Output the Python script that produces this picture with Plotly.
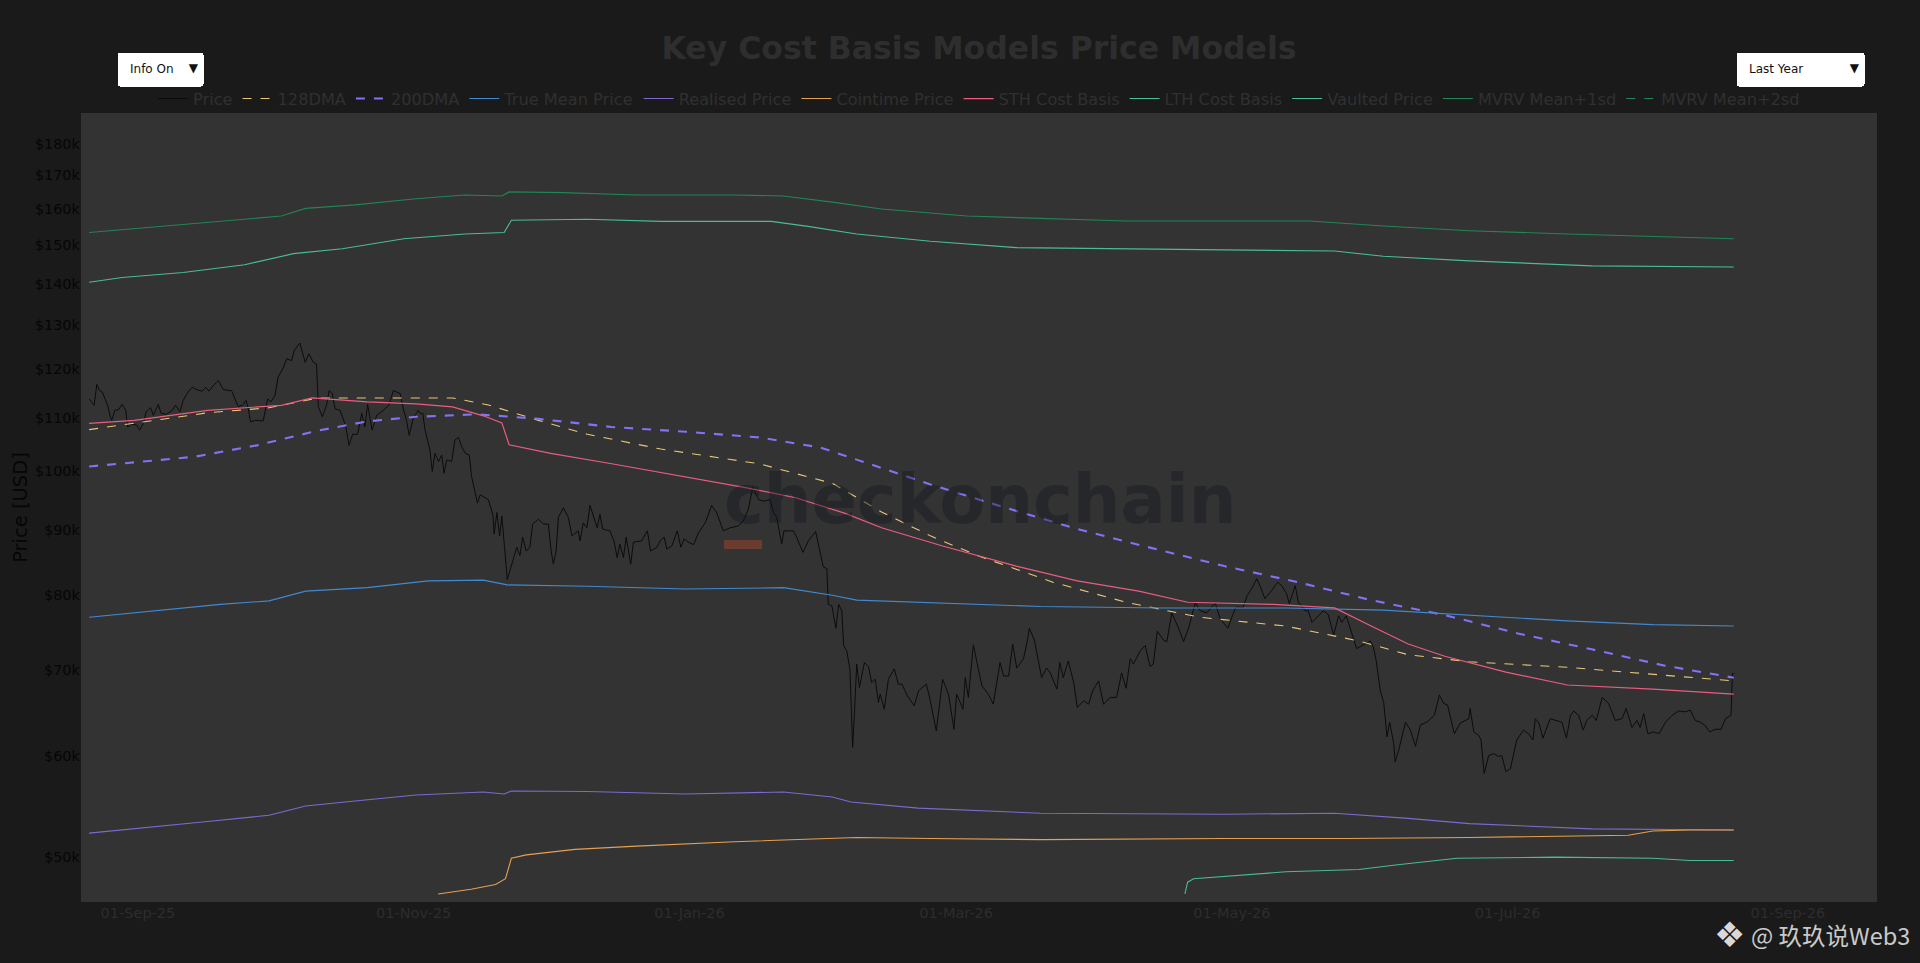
import pandas as pd
import plotly.graph_objects as go

ORIGIN = pd.Timestamp("2025-09-01")

price_days = [-10.8,-10.3,-9.7,-9.1,-8.5,-7.9,-7.3,-6.7,-6.2,-5.8,-5.1,-4.3,-3.5,-2.7,-2.3,-1.4,-0.3,0.4,1.2,1.8,2.8,3.4,4.5,5.1,6.3,7.6,8.3,9.3,10,11.1,12,13,14.2,15,15.7,16.7,17.8,18.9,20.7,21.5,22.2,23.1,23.9,24.4,24.9,25.9,27.7,28.7,29.4,30.3,31,32.2,32.9,34,34.6,35.8,37,37.8,38.8,39.5,39.9,40.8,41.7,42.3,43,43.6,44.7,45.9,46.7,47.5,48.6,49.5,50.2,50.8,51.8,52.8,54.3,55.5,56.5,58,58.7,59.4,60,60.9,62,
 62.4,63,63.5,64,64.6,65.1,65.7,66.5,67.2,67.7,68.3,69.4,70.1,70.9,71.6,72.4,73.3,73.8,74.6,75.1,75.7,76.8,77.5,78.5,78.8,79.4,80,80.5,81,81.7,82.5,83.8,84.5,85.1,85.9,86.7,87.3,88.6,89.7,90.8,91.4,91.9,92.5,93,94.1,95.2,96,97.4,97.8,98.5,99.3,100,101.1,101.6,102.2,102.8,104.4,105.3,106,106.6,107.4,108,109,109.6,111.4,112.7,113.4,114.8,115.5,116.4,117,118.1,119.3,120.1,120.8,121.8,122.9,124,125.5,126.9,128,129.5,131,132.8,133.9,135,136,137.3,138.4,139.8,140.6,141.3,142.4,142.9,145,145.7,147.1,148.3,149.9,150.5,
 151.6,152.4,152.7,153.5,154.4,155,155.7,156.1,156.8,157.5,158.1,158.5,159,159.6,160.7,161.6,162.3,163.1,163.8,164.2,165.1,166,167.3,168.2,169,170.2,171.7,172.7,174.4,175.2,176.6,178,179.3,180.5,181.1,182.5,183,183.7,184.8,185.6,186.7,188.1,189.2,190.7,191.5,192.6,193.5,194.4,195.9,196.6,197.2,198.3,199.2,199.9,201,201.8,203.3,203.9,204.7,205.8,207,207.8,209.2,210.3,211.2,212.5,213.6,215.1,216.5,217.6,218.6,219.5,220.2,221.7,222.8,223.9,224.6,225.5,226.9,227.6,228.7,230.2,231.3,232.4,233.9,235,236.4,238.3,239.4,
 240.1,241.1,242.2,242.9,244.5,245.4,246.4,247.5,248.2,249.3,250.8,252.1,253,254.1,254.7,256,256.7,257.4,258.2,258.9,259.7,260.8,262.2,263.3,264.5,265.6,266.3,267.3,268.1,269,269.6,271.1,272.6,273.3,
 273.9,274.8,275.6,276.3,276.9,277.8,278.1,278.9,279.6,280.4,281.5,282.6,283.7,285.1,286.8,287.9,288.8,289.7,290.5,291.2,292.5,294.4,294.7,295.5,296.6,297.1,297.8,298.8,299.9,301,301.7,302.6,303.6,305,306.5,307.6,308.6,309.1,309.9,310.8,312.4,313.9,315,316,316.9,317.6,318.7,319.7,320.5,321.7,322.6,323.9,325.3,326.8,328.3,329.2,330.5,331.6,332.3,333.1,334,335.3,336.5,337.9,339.4,340.8,342.3,343.4,344.5,345.6,346.7,347.7,348.9,350.2,351.2,352.4,352.7,353.1]
price_k = [113.8,113.2,112.5,116.8,115.5,115.2,113.8,112.5,110.5,109.5,111.5,111.6,112.7,111.5,108.2,108.7,108.6,107.6,108.9,111.2,112,110.5,112.7,110.9,110.7,111.5,112.5,111.2,113.5,115.2,116.2,115.7,115.4,116.2,115.4,116.6,117.6,115.7,115.5,113.8,112.2,112.5,113.5,111.8,109.2,109.5,109.4,113.8,113.2,114.5,118.3,120.5,122.3,121.9,124.2,125.8,121.5,123.4,121.5,121.2,112.2,110.2,112.5,115.5,114.9,111.8,111.5,108.6,104.7,106.8,106.8,110.9,108.2,112.7,107.6,110.5,111.5,112.5,115.5,114.9,111.8,109.5,106.6,109.9,111.5,
 110.9,110.9,107.7,106.1,103.8,99.9,103.2,101.7,102.9,99.6,102,101.7,105.7,106.2,104.5,103.2,102.9,99,96.4,94.4,95.8,95.3,95,92.5,89.3,92.8,89,92.2,87.7,82.3,84.1,87.2,85.9,88.8,86.6,87.2,90.9,91.7,90.9,90.9,86.6,84.6,86.6,92,93.6,92,89,89.8,88.2,91.1,90.3,94,91.4,90.3,92.5,90.1,89.8,88.2,85.6,87.7,85.6,88.8,84.6,88,88.2,89.8,86.6,87.2,88.2,88.8,86.9,87.4,89.8,87.2,88.5,88,87.6,89.5,91.1,94,92.8,89.8,90.3,90.6,91.4,93.3,97.1,95,94.7,95,92.8,92,87.7,89.8,89.8,88.8,86.4,88.2,89.7,87.7,
 84.2,83.9,78.7,78.5,75.4,78.7,77.8,73.1,72.4,70,60.9,64.8,70.7,67.8,70.9,70.4,68.4,68.8,66,67,65.2,68.8,70.1,68.2,68.2,66.8,65.6,67.4,68.2,66.4,62.7,68.8,67,62.9,67,65.2,69,66.6,73.2,70.9,68,67,65.8,70.9,69.2,69.2,73.3,70.2,71.4,73.3,75.4,73.8,70.9,69,70.2,69.6,67.6,70.9,69,71.1,68.4,65.4,66.2,65.8,67.4,68.6,65.8,66.6,66.6,69.6,67.7,71.4,70.7,72.4,73.1,70.4,70.7,75,73.8,73.6,77.5,75.4,73.6,75.4,78.9,77.8,77.5,78.9,76.7,
 76.2,75.4,77.3,78.3,78.3,80,81,82.4,81.4,79.5,80.7,81.9,81.4,80.2,78.8,81.4,79,78.5,77.8,77.8,76.2,76.9,77.8,77.3,74.5,77.1,76.2,77.1,75.4,73.8,72.7,73.2,73.7,72.9,
 71.2,67.5,65.9,62.05,63.7,61.3,59.3,60.6,62.05,63.7,62.8,61,63.4,63.7,64.5,66.9,65.9,65.7,63.9,62.4,63.6,64.1,65.3,62.6,62.2,61.7,58.1,60,60.2,59.9,60,58.3,58.6,61.7,62.8,62.4,61.7,64.1,63.6,61.9,64.1,63.9,63.7,61.9,64.5,65,64.5,62.8,63.9,64.5,63.9,66.6,65.9,63.9,64.1,65.3,63.1,63.9,63.1,64.7,62.4,62.6,62.4,63.7,64.5,65,64.9,65.1,63.9,63.7,63.3,62.6,62.9,62.9,64.1,64.5,69.5,69.5]

ma128_days = [-10.8,1.9,15.4,29,39.8,50.7,61.5,69.6,77.8,88.6,99.4,115.7,137.4,153.6,164.5,175.3,186.1,202.4,218.6,234.9,253.9,270.1,281,294.5,316.2,335.1,353]
ma128_k = [107.7,109.3,111,112,114,114,114,114,112.5,109.5,106.8,104,101.3,97.8,92.9,89,85.8,81.9,79,76.9,75.7,73.7,71.9,71,70.3,69.4,68.6]

ma200_days = [-10.8,1.9,12.7,26.3,39.8,50.7,61.5,75,88.6,104.8,121.1,137.4,150.9,161.7,175.3,191.5,207.8,224.1,240.3,256.6,272.8,289.1,305.3,321.6,337.8,353]
ma200_k = [100.8,101.7,102.6,104.7,107.5,109.3,110.2,110.7,109.8,108.2,107.3,106.2,104.3,101.3,97.6,93.7,90.1,87.1,84.3,81.9,79.3,77.2,74.7,72.6,70.5,69]

true_mean_days = [-10.8,1.9,18.2,29,37.1,50.7,64.2,76.4,81.7,99.4,121.1,142.8,153.6,159,175.3,199.7,226.8,253.9,275.5,294.5,316.2,335.1,353]
true_mean_k = [76.9,77.7,78.7,79.2,80.6,81.1,82.1,82.2,81.5,81.3,80.9,81.1,80,79.3,78.9,78.4,78.2,78.2,77.9,77.2,76.4,75.9,75.7]

realised_days = [-10.8,-0.8,15.4,29,37.1,48,61.5,76.4,81,82.6,99.4,121.1,142.8,153.6,157.7,172.6,199.7,240.3,264.7,281,294.5,321.6,353]
realised_k = [52.2,52.6,53.3,53.9,54.8,55.3,55.9,56.2,56,56.3,56.25,56,56.2,55.7,55.2,54.6,54.1,54,54.1,53.6,53.1,52.6,52.5]

cointime_days = [66.4,73.7,79.1,81.3,82.6,85.9,96.7,110.3,131.9,145.5,159,175.3,199.7,240.3,267.4,294.5,329.7,335.1,343.3,353]
cointime_k = [46.8,47.2,47.6,48.1,49.9,50.2,50.7,51,51.4,51.6,51.8,51.7,51.6,51.7,51.7,51.8,52,52.4,52.5,52.5]

sth_days = [-10.8,-0.8,15.4,31.7,38.5,50.7,61.5,69.6,76.4,80.5,82.1,91.3,104.8,121.1,134.7,145.5,156.3,164.5,178,194.3,207.8,221.4,232.2,251.2,264.7,272.8,281,289.1,302.6,316.2,335.1,353]
sth_k = [108.9,109.5,111.5,112.5,114,113.2,112.8,112.2,110.4,109,104.8,103.2,101.3,98.9,97,95.3,92.7,90.3,87.4,84.3,82.1,80.6,79,78.7,78.2,75.7,73.3,71.7,69.7,68.1,67.6,67]

lth_days = [231.6,232.2,233.5,240.3,253.9,270.1,278.2,291.8,313.5,335.1,343.3,353]
lth_k = [46.8,47.8,48.1,48.3,48.7,48.9,49.3,49.9,50,49.9,49.7,49.7]

vaulted_days = [-10.8,-3.5,10,23.6,34.4,45.2,58.8,72.3,81,82.6,99.4,115.7,140.1,148.2,159,175.3,194.3,213.2,240.3,264.7,275.5,294.5,321.6,353]
vaulted_k = [140.3,141.5,142.8,144.8,147.7,149,151.7,153,153.4,156.8,157.1,156.5,156.5,155.1,153,151,149.3,149,148.7,148.4,147,145.8,144.5,144.2]

mvrv1_days = [-10.8,1.9,18.2,31.7,37.1,48,61.5,72.3,80.5,82.1,94,110.3,131.9,142.8,153.6,164.5,183.4,199.7,218.6,240.3,259.2,275.5,294.5,316.2,335.1,353]
mvrv1_k = [153.4,154.8,156.5,158,160.2,161.2,163,164.1,163.8,165,164.8,164.1,164.1,163.8,162,160,158,157.3,156.6,156.6,156.6,155.2,153.9,153,152.3,151.7]

mvrv2_days = [-10.8,37.1,82.1,164.5,240.3,353]
mvrv2_k = [212,218,224,216,210,203]

ytick_k = [50,60,70,80,90,100,110,120,130,140,150,160,170,180]
ytick_text = ["$50k","$60k","$70k","$80k","$90k","$100k","$110k","$120k","$130k","$140k","$150k","$160k","$170k","$180k"]
xtick_dates = ["2025-09-01","2025-11-01","2026-01-01","2026-03-01","2026-05-01","2026-07-01","2026-09-01"]
xtick_text = ["01-Sep-25","01-Nov-25","01-Jan-26","01-Mar-26","01-May-26","01-Jul-26","01-Sep-26"]


def dates(days):
    return [ORIGIN + pd.Timedelta(days=d) for d in days]


def usd(k):
    return [v * 1000 for v in k]


series = [
    ("Price", price_days, price_k, "#0c0c0c", 1, "solid"),
    ("128DMA", ma128_days, ma128_k, "#e8c878", 1.1, "dash"),
    ("200DMA", ma200_days, ma200_k, "#8272f5", 2.1, "dash"),
    ("True Mean Price", true_mean_days, true_mean_k, "#4289d0", 1.1, "solid"),
    ("Realised Price", realised_days, realised_k, "#8068d0", 1.1, "solid"),
    ("Cointime Price", cointime_days, cointime_k, "#e6a050", 1.1, "solid"),
    ("STH Cost Basis", sth_days, sth_k, "#ea5c80", 1.2, "solid"),
    ("LTH Cost Basis", lth_days, lth_k, "#4abd92", 1.1, "solid"),
    ("Vaulted Price", vaulted_days, vaulted_k, "#4abd92", 1.1, "solid"),
    ("MVRV Mean+1sd", mvrv1_days, mvrv1_k, "#218556", 1.1, "solid"),
    ("MVRV Mean+2sd", mvrv2_days, mvrv2_k, "#218556", 1.1, "dash"),
]

fig = go.Figure()
for name, d, v, color, width, dash in series:
    fig.add_trace(go.Scatter(x=dates(d), y=usd(v), name=name, mode="lines",
                             line=dict(color=color, width=width, dash=dash)))

FONT = "DejaVu Sans"
W, H = 1920, 963
L, R, T, B = 81, 43, 113, 61


def px(x):
    return (x - L) / (W - L - R)


def py(y):
    return 1 - (y - T) / (H - T - B)


fig.update_layout(
    width=W, height=H, autosize=False,
    paper_bgcolor="#1a1a1a", plot_bgcolor="#333333",
    margin=dict(l=L, r=R, t=T, b=B, pad=0),
    font=dict(family=FONT, color="#2e2e2e"),
    title=dict(text="<b>Key Cost Basis Models Price Models</b>", xref="paper", x=0.5, xanchor="center",
               yref="container", y=0.95, yanchor="middle", font=dict(size=31.5, color="#2e2e2e", family=FONT)),
    showlegend=True,
    legend=dict(orientation="h", x=0.5, xanchor="center", y=py(99), yanchor="middle",
                font=dict(size=16.2, color="#303030", family=FONT), bgcolor="rgba(0,0,0,0)",
                itemwidth=30, traceorder="normal"),
    xaxis=dict(type="date", range=[ORIGIN + pd.Timedelta(days=-12.6), ORIGIN + pd.Timedelta(days=384.7)],
               tickmode="array", tickvals=xtick_dates, ticktext=xtick_text, showgrid=False, zeroline=False,
               tickfont=dict(size=14.5, color="#2d2d2d", family=FONT), ticks="", showline=False),
    yaxis=dict(type="log", range=[4.664, 5.279], tickmode="array",
               tickvals=[v * 1000 for v in ytick_k], ticktext=ytick_text, showgrid=False, zeroline=False,
               tickfont=dict(size=14.5, color="#060606", family=FONT), ticks="", showline=False,
               title=dict(text="Price [USD]", font=dict(size=19.5, color="#060606", family=FONT), standoff=1)),
    updatemenus=[
        dict(type="dropdown", direction="down", showactive=True, active=0,
             x=px(117), xanchor="left", y=py(52), yanchor="top", bgcolor="#ffffff", bordercolor="#ffffff",
             font=dict(size=12, color="#111111", family=FONT), pad=dict(l=0, r=0, t=0, b=0),
             buttons=[dict(label="Info On", method="skip", args=[None]),
                      dict(label="Info Off", method="skip", args=[None])]),
        dict(type="dropdown", direction="down", showactive=True, active=0,
             x=px(1736), xanchor="left", y=py(52), yanchor="top", bgcolor="#ffffff", bordercolor="#ffffff",
             font=dict(size=12, color="#111111", family=FONT), pad=dict(l=0, r=0, t=0, b=0),
             buttons=[dict(label="Last Year", method="skip", args=[None]),
                      dict(label="Last Two Years", method="skip", args=[None]),
                      dict(label="All History", method="skip", args=[None])]),
    ],
    annotations=[
        dict(text="<b>checkonchain</b>", xref="paper", yref="paper", x=px(980), y=py(500), showarrow=False,
             font=dict(size=67, color="rgba(18,22,30,0.38)", family=FONT), xanchor="center", yanchor="middle"),
        dict(text="❖", xref="paper", yref="paper", x=px(1729), y=py(935), showarrow=False,
             font=dict(size=35, color="#d8d8d8", family=FONT), xanchor="center", yanchor="middle"),
        dict(text="@ 玖玖说Web3", xref="paper", yref="paper", x=px(1912), y=py(935), showarrow=False,
             font=dict(size=23.5, color="#c9c9c9", family="Noto Sans CJK SC"), xanchor="right", yanchor="middle"),
    ],
    shapes=[
        dict(type="rect", xref="paper", yref="paper", x0=px(724), x1=px(762), y0=py(549), y1=py(540),
             fillcolor="#6a3c30", line=dict(width=0), layer="below"),
    ],
)

fig.write_html("out.html", config=dict(displayModeBar=False),
               post_script="document.documentElement.style.overflow='hidden';document.body.style.margin='0';document.body.style.background='#1a1a1a';")
